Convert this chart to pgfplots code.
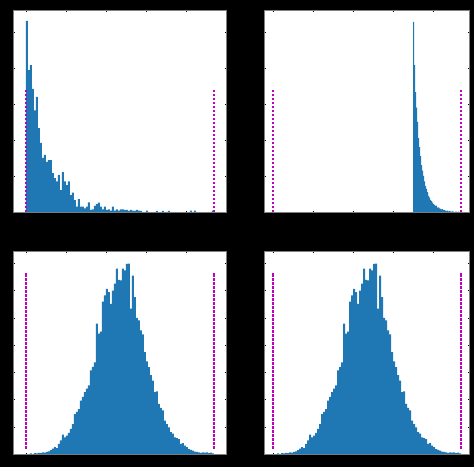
\documentclass[border=0pt]{standalone}
\usepackage{pgfplots}
\pgfplotsset{compat=1.18}
\definecolor{mplblue}{RGB}{31,119,180}
\definecolor{mplmag}{RGB}{191,0,191}
\definecolor{framegray}{RGB}{128,128,128}
\pgfplotsset{
  hist/.style={scale only axis, axis background/.style={fill=white},
    axis line style={framegray, line width=1pt},
    tick style={black, line width=0.5pt}, tick align=center, major tick length=3pt,
    ticklabel style={font=\fontsize{5}{5}\selectfont, black, inner sep=1pt},
    title style={font=\fontsize{6}{6}\selectfont, black, yshift=-6pt},
    ymin=0},
  vl/.style={mplmag, line width=1.5pt, dash pattern=on 2.5pt off 1.5pt},
  bars/.style={ybar interval, fill=mplblue, draw=none},
}
\begin{document}
\begin{tikzpicture}
\fill[black] (0pt,0pt) rectangle (474pt,-467pt);
% top left
\begin{axis}[hist, at={(13pt,-212pt)}, anchor=south west, width=213pt, height=202pt,
  xmin=-6.4, xmax=100.1, ymax=561, ytick={0,100,...,500},
  title={Exponential prior, normal quantities}]
\addplot[bars] coordinates {
(0,531)(1,394)(2,408)(3,342)(4,282)(5,320)(6,233)(7,192)(8,150)(9,159)
(10,139)(11,144)(12,144)(13,108)(14,94)(15,85)(16,103)(17,61)(18,111)(19,85)
(20,75)(21,85)(22,47)(23,54)(24,33)(25,15)(26,36)(27,15)(28,15)(29,10)
(30,15)(31,27)(32,6)(33,7)(34,17)(35,22)(36,26)(37,15)(38,7)(39,15)
(40,6)(41,7)(42,4)(43,15)(44,4)(45,7)(46,4)(47,7)(48,7)(49,6)
(50,6)(51,3)(52,6)(53,4)(54,3)(55,6)(56,4)(57,3)(58,0)(59,0)
(60,4)(61,0)(62,0)(63,0)(64,0)(65,3)(66,0)(67,0)(68,3)(69,0)
(70,0)(71,3)(72,0)(73,0)(74,0)(75,0)(76,0)(77,0)(78,0)(79,0)
(80,0)(81,0)(82,4)(83,0)(84,4)(85,0)(86,0)(87,0)(88,0)(89,0)
(90,0)(91,0)(92,0)(93,4)(94,0)};
\addplot[vl] coordinates {(0,0)(0,339)};
\addplot[vl] coordinates {(94,0)(94,339)};
\end{axis}
% top right
\begin{axis}[hist, at={(264pt,-212pt)}, anchor=south west, width=205pt, height=202pt,
  xmin=-4.5, xmax=98, ymax=561, ytick={0,100,...,500},
  title={Reflected exponential prior, normal quantities}]
\addplot[bars] coordinates {
(70,528)(70.5,408)(71,333)(71.5,290)(72,250)(72.5,205)(73,180)(73.5,155)(74,130)(74.5,115)
(75,100)(75.5,85)(76,72)(76.5,64)(77,55)(77.5,45)(78,40)(78.5,33)(79,30)(79.5,26)
(80,22)(80.5,20)(81,17)(81.5,18)(82,12)(82.5,13)(83,10)(83.5,9)(84,7)(84.5,8)
(85,5)(85.5,5)(86,4)(86.5,3)(87,4)(87.5,2)(88,3)(88.5,2)(89,1)(89.5,2)
(90,1)(90.5,0)(91,1)(91.5,1)(92,0)(92.5,1)(93,0)(93.5,1)(94,0)};
\addplot[vl] coordinates {(0,0)(0,339)};
\addplot[vl] coordinates {(94,0)(94,339)};
\end{axis}
% bottom left
\begin{axis}[hist, at={(13pt,-454pt)}, anchor=south west, width=213pt, height=203pt,
  xmin=-6.4, xmax=100.1, ymax=746, ytick={0,100,...,700},
  title={Normal}]
\addplot[bars] coordinates {
(0,0)(1,0)(2,2)(3,0)(4,3)(5,2)(6,4)(7,3)(8,6)(9,5)
(10,8)(11,10)(12,14)(13,20)(14,25)(15,22)(16,37)(17,50)(18,71)(19,61)
(20,68)(21,78)(22,92)(23,110)(24,147)(25,155)(26,165)(27,196)(28,210)(29,227)
(30,240)(31,252)(32,307)(33,320)(34,337)(35,479)(36,442)(37,450)(38,560)(39,583)
(40,607)(41,595)(42,552)(43,600)(44,626)(45,681)(46,640)(47,638)(48,681)(49,675)
(50,699)(51,700)(52,534)(53,656)(54,577)(55,500)(56,491)(57,454)(58,440)(59,374)
(60,340)(61,319)(62,290)(63,270)(64,227)(65,230)(66,184)(67,170)(68,160)(69,123)
(70,110)(71,98)(72,80)(73,75)(74,61)(75,58)(76,55)(77,37)(78,40)(79,31)
(80,25)(81,18)(82,15)(83,12)(84,9)(85,8)(86,6)(87,4)(88,6)(89,5)
(90,6)(91,3)(92,5)(93,2)(94,0)};
\addplot[vl] coordinates {(0,20)(0,667)};
\addplot[vl] coordinates {(94,20)(94,667)};
\end{axis}
% bottom right
\begin{axis}[hist, at={(264pt,-454pt)}, anchor=south west, width=205pt, height=203pt,
  xmin=-4.5, xmax=98, ymax=746, ytick={0,100,...,700},
  title={Normal}]
\addplot[bars] coordinates {
(0,0)(1,0)(2,2)(3,0)(4,3)(5,2)(6,4)(7,3)(8,6)(9,5)
(10,8)(11,10)(12,14)(13,20)(14,25)(15,22)(16,37)(17,50)(18,71)(19,61)
(20,68)(21,78)(22,92)(23,110)(24,147)(25,155)(26,165)(27,196)(28,210)(29,227)
(30,240)(31,252)(32,307)(33,320)(34,337)(35,479)(36,442)(37,450)(38,560)(39,583)
(40,607)(41,595)(42,552)(43,600)(44,626)(45,681)(46,640)(47,638)(48,681)(49,675)
(50,699)(51,700)(52,534)(53,656)(54,577)(55,500)(56,491)(57,454)(58,440)(59,374)
(60,340)(61,319)(62,290)(63,270)(64,227)(65,230)(66,184)(67,170)(68,160)(69,123)
(70,110)(71,98)(72,80)(73,75)(74,61)(75,58)(76,55)(77,37)(78,40)(79,31)
(80,25)(81,18)(82,15)(83,12)(84,9)(85,8)(86,6)(87,4)(88,6)(89,5)
(90,6)(91,3)(92,5)(93,2)(94,0)};
\addplot[vl] coordinates {(0,20)(0,667)};
\addplot[vl] coordinates {(94,20)(94,667)};
\end{axis}
\pgfresetboundingbox
\path (0pt,0pt) rectangle (474pt,-467pt);
\end{tikzpicture}
\end{document}
